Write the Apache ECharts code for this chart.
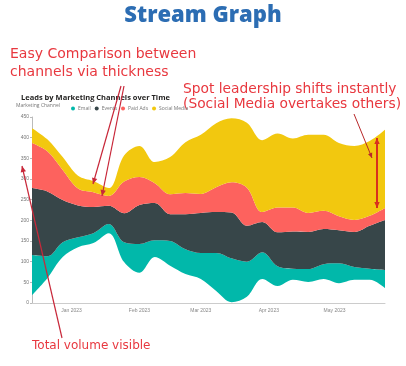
<!DOCTYPE html>
<html>
<head>
<meta charset="utf-8">
<script src="https://cdn.jsdelivr.net/npm/echarts@6/dist/echarts.min.js"></script>
<style>
html,body{margin:0;padding:0;background:#fff;}
#c{width:406px;height:366px;}
</style>
</head>
<body>
<div id="c"></div>
<script>
// ---- data ----
const dates = ['2022-12-14','2022-12-21','2022-12-28','2023-01-04','2023-01-11','2023-01-18','2023-01-25','2023-02-01','2023-02-08','2023-02-15','2023-02-22','2023-03-01','2023-03-08','2023-03-15','2023-03-22','2023-03-29','2023-04-05','2023-04-12','2023-04-19','2023-04-26','2023-05-03','2023-05-10','2023-05-17','2023-05-24'];
const baseline    = [19,60,111,135,145,169,99,73,111,90,70,58,29,2,15,58,41,56,51,58,48,56,56,36];
const email       = [97,53,36,24,24,22,48,70,41,60,60,63,92,106,85,65,48,27,31,36,48,31,27,44];
const events      = [162,157,102,77,63,44,70,94,90,65,85,97,99,111,87,73,82,90,90,85,80,85,104,121];
const paidAds     = [109,97,73,41,36,24,77,68,48,48,51,46,60,73,92,24,60,58,46,44,34,29,24,29];
const socialMedia = [36,29,31,31,27,19,63,75,51,90,123,143,155,155,157,174,179,167,189,184,177,179,181,189];
const channelNames = ['Email','Events','Paid Ads','Social Media'];
const monthLabels = ['Jan 2023','Feb 2023','Mar 2023','Apr 2023','May 2023'];
const yTicks = {min:0, max:450, interval:50};

const colors = ['#01B8AA','#374649','#FD625E','#F2C80F'];
const red = '#E8383F';

function pairs(vals){ return dates.map((d,i)=>[d, vals[i]]); }

function arrow(x1,y1,x2,y2,color,w,h,both){
  const els=[{type:'line',shape:{x1,y1,x2,y2},style:{stroke:color,lineWidth:w},z:100}];
  function head(tx,ty,fx,fy){
    const dx=tx-fx, dy=ty-fy, L=Math.hypot(dx,dy), ux=dx/L, uy=dy/L, nx=-uy, ny=ux;
    const bx=tx-ux*h, by=ty-uy*h;
    return {type:'polygon',shape:{points:[[tx,ty],[bx+nx*h*0.45,by+ny*h*0.45],[bx-nx*h*0.45,by-ny*h*0.45]]},style:{fill:color},z:101};
  }
  els.push(head(x2,y2,x1,y1));
  if(both) els.push(head(x1,y1,x2,y2));
  return els;
}

const chart = echarts.init(document.getElementById('c'), null, {renderer:'canvas'});
const seriesData=[baseline,email,events,paidAds,socialMedia];
const series=[{
  name:'base', type:'line', stack:'total', smooth:0.35, symbol:'none',
  data:pairs(baseline), lineStyle:{width:0,opacity:0}, areaStyle:{opacity:0}, silent:true
}];
channelNames.forEach((n,i)=>{
  series.push({
    name:n, type:'line', stack:'total', smooth:0.35, symbol:'none',
    data:pairs(seriesData[i+1]),
    itemStyle:{color:colors[i]},
    lineStyle:{width:0},
    areaStyle:{color:colors[i],opacity:1}
  });
});

const graphics=[
  {type:'text',left:'center',top:5,style:{text:'Stream Graph',font:'800 22px "Open Sans"',fill:'#2C6DB3'}},
  {type:'text',x:10,y:47,style:{text:'Easy Comparison between',font:'14px "DejaVu Sans"',fill:red}},
  {type:'text',x:10,y:65,style:{text:'channels via thickness',font:'14px "DejaVu Sans"',fill:red}},
  {type:'text',x:183,y:82,style:{text:'Spot leadership shifts instantly',font:'13.8px "DejaVu Sans"',fill:red}},
  {type:'text',x:183,y:97,style:{text:'(Social Media overtakes others)',font:'13.8px "DejaVu Sans"',fill:red}},
  {type:'text',x:32,y:340,style:{text:'Total volume visible',font:'12px "DejaVu Sans"',fill:red}},
  {type:'text',x:16,y:103,style:{text:'Marketing Channel',font:'5px "Open Sans"',fill:'#777'}}
];
graphics.push(...arrow(121,86,93,184,'#C8283A',1.2,6,false));
graphics.push(...arrow(124,86,102,196,'#C8283A',1.2,6,false));
graphics.push(...arrow(62,338,22,166,'#C8283A',1.2,6,false));
graphics.push(...arrow(354,114,372,158,'#B8282A',1,5,false));
graphics.push(...arrow(377,138,377,208,'#D8301E',2,6,true));

chart.setOption({
  animation:false,
  backgroundColor:'#fff',
  title:{text:'Leads by Marketing Channels over Time',left:16,top:89,textStyle:{fontSize:7.5,fontWeight:'bold',color:'#252423',fontFamily:'Open Sans'}},
  legend:{data:channelNames,left:66,top:101,icon:'circle',itemWidth:4,itemHeight:4,itemGap:4,
    textStyle:{fontSize:5,color:'#777',fontFamily:'Open Sans',padding:[0,0,0,-2]}},
  grid:{left:32,right:21,top:117,bottom:63,containLabel:false},
  xAxis:{type:'time',min:dates[0],max:dates[dates.length-1],splitNumber:5,
    axisLine:{lineStyle:{color:'#ccc'}},axisTick:{show:false},splitLine:{show:false},
    axisLabel:{fontSize:5,color:'#888',margin:5,showMinLabel:false,showMaxLabel:false,
      formatter:function(v){const d=new Date(v); if(d.getDate()!==1) return ''; return monthLabels[d.getMonth()]||'';}}},
  yAxis:{type:'value',min:yTicks.min,max:yTicks.max,interval:yTicks.interval,
    axisLine:{show:true,lineStyle:{color:'#bbb'}},axisTick:{show:true,length:2,lineStyle:{color:'#bbb'}},splitLine:{show:false},
    axisLabel:{fontSize:5,color:'#777',margin:3}},
  series:series,
  graphic:graphics
});
</script>
</body>
</html>
